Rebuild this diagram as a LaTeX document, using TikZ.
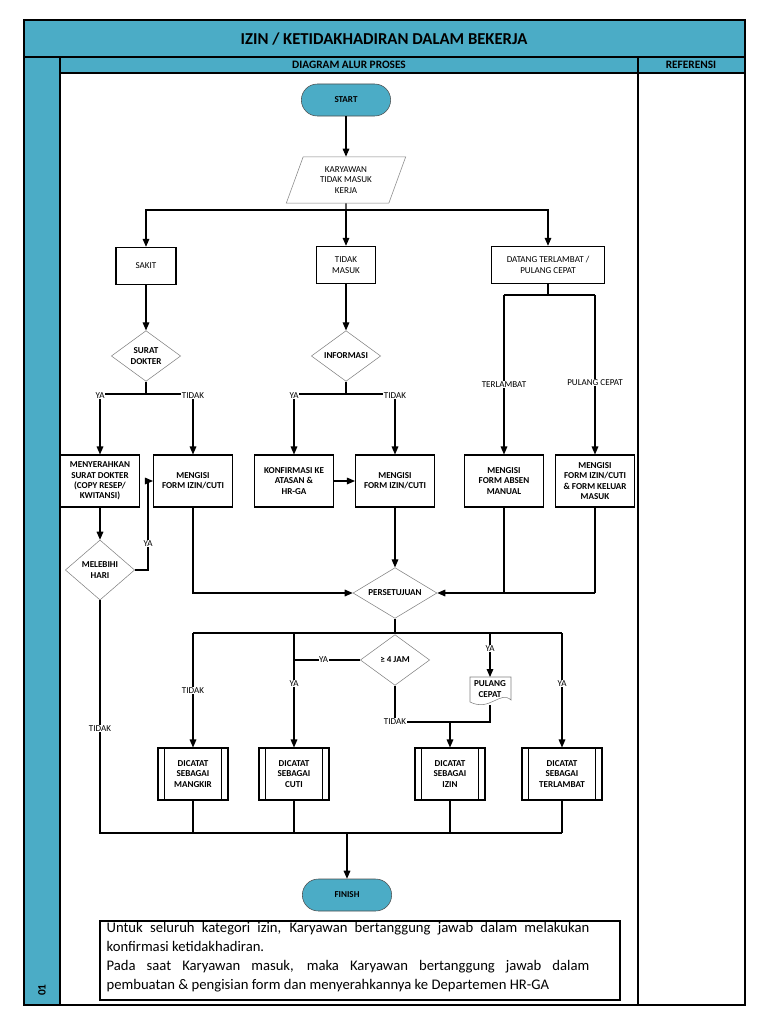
\documentclass[tikz,border=0pt]{standalone}
\usepackage{fontspec}
\setmainfont{Carlito}
\usetikzlibrary{shapes.geometric,arrows.meta,calc}
\definecolor{teal}{RGB}{75,172,198}
\begin{document}
\begin{tikzpicture}[x=0.75pt,y=-0.75pt,
 every node/.style={font=\fontsize{6.8}{7.8}\selectfont\bfseries,align=center,inner sep=1pt},
 box/.style={draw,thick,minimum width=59.25pt,minimum height=39pt},
 pbox/.style={draw,thick,minimum width=52.5pt,minimum height=39pt},
 dia/.style={diamond,draw=gray,aspect=1.4,inner sep=0pt},
 term/.style={draw=black!70,fill=teal,rounded corners=12pt,minimum width=67pt,minimum height=24pt},
 lbl/.style={font=\fontsize{6.8}{7.8}\selectfont,fill=white,inner sep=0.5pt},
 ln/.style={thick},
 ar/.style={thick,-{Triangle[length=6pt,width=5pt]}}]
\useasboundingbox (0,0) rectangle (768,1024);
% frame
\fill[teal] (24,20) rectangle (745,57);
\fill[teal] (24,57) rectangle (745,73);
\fill[teal] (24,73) rectangle (60,1005);
\draw[thick] (24,20) rectangle (745,1005);
\draw[thick] (24,57) -- (745,57) (60,73) -- (745,73) (60,57) -- (60,1005) (638,57) -- (638,1005);
\node[font=\fontsize{12.5}{14}\selectfont\bfseries] (title) at (384,39) {IZIN / KETIDAKHADIRAN DALAM BEKERJA};
\node[font=\fontsize{8.5}{9}\selectfont\bfseries] (h1) at (349,65) {DIAGRAM ALUR PROSES};
\node[font=\fontsize{8.5}{9}\selectfont\bfseries] (h2) at (691,65) {REFERENSI};
\node[font=\fontsize{8.5}{9}\selectfont\bfseries,rotate=90] (num) at (42,990) {01};
% nodes
\node[term] (start) at (346,100) {START};
\node[trapezium,trapezium left angle=70,trapezium right angle=110,draw=gray,minimum width=90pt,minimum height=26pt,font=\fontsize{6.8}{7.8}\selectfont] (kar) at (346,180) {KARYAWAN\\TIDAK MASUK\\KERJA};
\coordinate (s0) at (346,210);
\node[draw,thick,minimum width=45pt,minimum height=28pt,font=\fontsize{6.8}{7.8}\selectfont] (sakit) at (146,266) {SAKIT};
\node[draw,thick,minimum width=44pt,minimum height=28pt,font=\fontsize{6.8}{7.8}\selectfont] (tm) at (346,265) {TIDAK\\MASUK};
\node[draw,thick,minimum width=85pt,minimum height=28pt,font=\fontsize{6.8}{7.8}\selectfont] (dt) at (548,265) {DATANG TERLAMBAT /\\PULANG CEPAT};
\node[dia,minimum width=52pt,minimum height=38pt] (sd) at (146,356) {SURAT\\DOKTER};
\node[dia,minimum width=52pt,minimum height=38pt] (inf) at (346,356) {INFORMASI};
\node[box] (mn) at (100,481) {MENYERAHKAN\\SURAT DOKTER\\(COPY RESEP/\\KWITANSI)};
\node[box] (m1) at (193,481) {MENGISI\\FORM IZIN/CUTI};
\node[box] (kf) at (294,481) {KONFIRMASI KE\\ATASAN \&\\HR-GA};
\node[box] (m2) at (395,481) {MENGISI\\FORM IZIN/CUTI};
\node[box] (ma) at (504,481) {MENGISI\\FORM ABSEN\\MANUAL};
\node[box] (mk) at (595,481) {MENGISI\\FORM IZIN/CUTI\\\& FORM KELUAR\\MASUK};
\node[dia,minimum width=52pt,minimum height=45pt] (mh) at (100,570) {MELEBIHI\\HARI};
\node[dia,minimum width=63pt,minimum height=38pt] (ps) at (395,593) {PERSETUJUAN};
\node[dia,minimum width=52pt,minimum height=38pt] (jam) at (395,660) {≥ 4 JAM};
\node[pbox] (d1) at (193,774) {DICATAT\\SEBAGAI\\MANGKIR};
\node[pbox] (d2) at (294,774) {DICATAT\\SEBAGAI\\CUTI};
\node[pbox] (d3) at (450,774) {DICATAT\\SEBAGAI\\IZIN};
\node[pbox,minimum width=60pt] (d4) at (562,774) {DICATAT\\SEBAGAI\\TERLAMBAT};
\foreach \n in {d1,d2,d3,d4}{\draw ($(\n.north west)+(7,0)$) -- ($(\n.south west)+(7,0)$);
 \draw ($(\n.north east)+(-7,0)$) -- ($(\n.south east)+(-7,0)$);}
\node[term] (fin) at (347,895) {FINISH};
% document shape
\draw[gray,fill=white] (470,677) -- (511,677) -- (511,700) .. controls (500,690) and (490,712) .. (470,702) -- cycle;
\node (pc) at (490,689) {PULANG\\CEPAT};
\coordinate (pct) at (490,677); \coordinate (pcb) at (490,705);
% connectors
\draw[ar] (start) -- (kar);
\draw[ln] (kar) -- (s0);
\draw[ar] (s0) -| (sakit);
\draw[ar] (s0) -- (tm);
\draw[ar] (s0) -| (dt);
\draw[ar] (sakit) -- (sd);
\draw[ar] (tm) -- (inf);
\coordinate (b1) at (146,394); \coordinate (b2) at (346,394);
\coordinate (l1) at (100,394); \coordinate (r1) at (193,394);
\coordinate (l2) at (294,394); \coordinate (r2) at (395,394);
\draw[ln] (sd) -- (b1) (l1) -- (r1) (l2) -- (r2);
\draw[ar] (l1) -- node[lbl,pos=0.02]{YA} (mn);
\draw[ar] (r1) -- node[lbl,pos=0.02]{TIDAK} (m1);
\draw[ar] (l2) -- node[lbl,pos=0.02]{YA} (kf);
\draw[ar] (r2) -- node[lbl,pos=0.02]{TIDAK} (m2);
\draw[ln] (inf) -- (b2);
\draw[ar] (kf) -- (m2);
\coordinate (r0) at (548,295); \coordinate (ra) at (504,295); \coordinate (rb) at (595,295);
\draw[ln] (dt) -- (r0) (ra) -- (rb);
\draw[ar] (ra) -- node[lbl,pos=0.56]{TERLAMBAT} (ma);
\draw[ar] (rb) -- node[lbl,pos=0.55]{PULANG CEPAT} (mk);
\draw[ar] (mn) -- (mh);
\coordinate (y3) at (148,570);
\draw[ar] (mh.east) -- (y3) -- node[lbl,pos=0.3]{YA} (y3 |- m1.west) -- (m1.west);
\draw[ar] (m1) |- (ps.west);
\draw[ar] (m2) -- (ps);
\coordinate (ja) at (504,593); \coordinate (jb) at (595,593);
\draw[ln] (ma) -- (ja) (mk) -- (jb);
\draw[ar] (jb) -- (ps.east);
\coordinate (p0) at (395,633); \coordinate (pl) at (193,633); \coordinate (pr) at (562,633);
\coordinate (pa) at (294,633);
\draw[ln] (ps) -- (p0) (pl) -- (pr);
\draw[ar] (pl) -- node[lbl,pos=0.5]{TIDAK} (d1);
\draw[ar] (pa) -- node[lbl,pos=0.44]{YA} (d2);
\draw[ar] (pr) -- node[lbl,pos=0.44]{YA} (d4);
\coordinate (jw) at (294,660);
\draw[ln] (jam.west) -- node[lbl,pos=0.55]{YA} (jw);
\coordinate (jt) at (395,722); \coordinate (jz) at (490,722); \coordinate (jd) at (450,722);
\draw[ln] (jam.south) -- (jt) -- (jz) -- (pcb);
\node[lbl] (td4) at (jt) {TIDAK};
\draw[ar] (jd) -- (d3);
\coordinate (pt) at (490,633);
\draw[ar] (pt) -- node[lbl,pos=0.35]{YA} (pct);
\coordinate (bl) at (100,833); \coordinate (br) at (562,833); \coordinate (bm) at (347,833);
\draw[ln] (mh) -- node[lbl,pos=0.55]{TIDAK} (bl) -- (br);
\draw[ln] (d1) -- (d1 |- bl) (d2) -- (d2 |- bl) (d3) -- (d3 |- bl) (d4) -- (d4 |- bl);
\draw[ar] (bm) -- (fin);
% note
\draw[thick] (100,921) rectangle (620,1000);
\node[font={\fontsize{11}{14.2}\selectfont},align=justify,text width=362pt,anchor=north west] (note) at (105,921) {Untuk seluruh kategori izin, Karyawan bertanggung jawab dalam melakukan\linebreak konfirmasi ketidakhadiran.\\Pada saat Karyawan masuk, maka Karyawan bertanggung jawab dalam\linebreak pembuatan \& pengisian form dan menyerahkannya ke Departemen HR-GA};
\end{tikzpicture}
\end{document}
